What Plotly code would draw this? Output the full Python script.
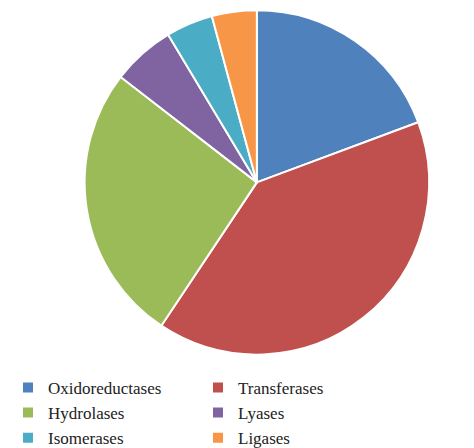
import plotly.graph_objects as go

labels = ["Oxidoreductases", "Transferases", "Hydrolases", "Lyases", "Isomerases", "Ligases"]
values = [19.3, 40.0, 26.1, 5.9, 4.4, 4.2]
colors = ["#4F81BD", "#C0504D", "#9BBB59", "#8064A2", "#4BACC6", "#F79646"]

fig = go.Figure(go.Pie(
    labels=labels, values=values, sort=False, direction="clockwise", rotation=0,
    marker=dict(colors=colors, line=dict(color="white", width=2)),
    textinfo="none", hoverinfo="label+percent",
    domain=dict(x=[0.15, 0.90], y=[0.205, 0.995]),
))
fig.update_layout(
    width=474, height=448, margin=dict(l=0, r=0, t=0, b=0),
    paper_bgcolor="white",
    font=dict(family="Liberation Serif", size=17, color="#222"),
    legend=dict(orientation="h", x=0.0, y=0.17, xanchor="left", yanchor="top",
                entrywidth=145, itemwidth=30, traceorder="normal",
                tracegroupgap=20),
)
fig.write_html("out.html")
